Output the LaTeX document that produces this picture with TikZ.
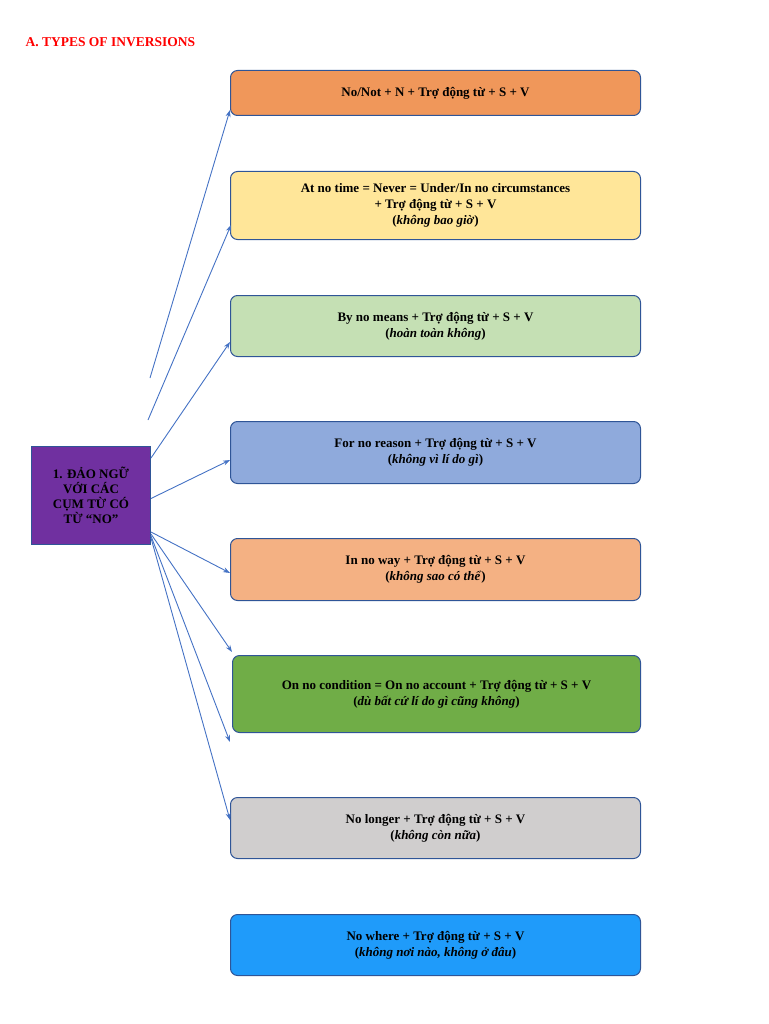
\documentclass[tikz,border=0pt]{standalone}
\usepackage{fontspec}
\setmainfont{Liberation Serif}
\usetikzlibrary{arrows.meta}
\definecolor{c1}{HTML}{F0975A}
\definecolor{c2}{HTML}{FFE699}
\definecolor{c3}{HTML}{C5E0B4}
\definecolor{c4}{HTML}{8FAADC}
\definecolor{c5}{HTML}{F4B183}
\definecolor{c6}{HTML}{70AD47}
\definecolor{c7}{HTML}{D0CECE}
\definecolor{c8}{HTML}{1F9BFA}
\definecolor{cp}{HTML}{7030A0}
\definecolor{edge}{HTML}{2F5597}
\definecolor{arr}{HTML}{4472C4}
\begin{document}
\begin{tikzpicture}[x=1pt,y=-1pt,
 box/.style={draw=edge,line width=1pt,rounded corners=7pt,align=center,font=\bfseries\fontsize{13}{16}\selectfont,inner sep=0pt,anchor=north west},
 ar/.style={draw=arr,line width=0.9pt,-{Stealth[length=7pt,width=5pt]}}]
\useasboundingbox (0,0) rectangle (768,1024);
\node[text=red,font=\bfseries\fontsize{13.5}{16}\selectfont,anchor=west] (t) at (22,42) {A. TYPES OF INVERSIONS};
\node[box,fill=c1,minimum width=410pt,minimum height=45pt] (b1) at (230,70) {No/Not + N + Trợ động từ + S + V};
\node[box,fill=c2,minimum width=410pt,minimum height=68pt] (b2) at (230,171) {At no time = Never = Under/In no circumstances\\+ Trợ động từ + S + V\\(\textit{không bao giờ})};
\node[box,fill=c3,minimum width=410pt,minimum height=61pt] (b3) at (230,295) {By no means + Trợ động từ + S + V\\(\textit{hoàn toàn không})};
\node[box,fill=c4,minimum width=410pt,minimum height=62pt] (b4) at (230,421) {For no reason + Trợ động từ + S + V\\(\textit{không vì lí do gì})};
\node[box,fill=c5,minimum width=410pt,minimum height=62pt] (b5) at (230,538) {In no way + Trợ động từ + S + V\\(\textit{không sao có thể})};
\node[box,fill=c6,minimum width=408pt,minimum height=77pt] (b6) at (232,655) {On no condition = On no account + Trợ động từ + S + V\\(\textit{dù bất cứ lí do gì cũng không})};
\node[box,fill=c7,minimum width=410pt,minimum height=61pt] (b7) at (230,797) {No longer + Trợ động từ + S + V\\(\textit{không còn nữa})};
\node[box,fill=c8,minimum width=410pt,minimum height=61pt] (b8) at (230,914) {No where + Trợ động từ + S + V\\(\textit{không nơi nào, không ở đâu})};
\node[box,rounded corners=0pt,fill=cp,minimum width=119pt,minimum height=98pt,font=\bfseries\fontsize{13}{15}\selectfont] (L) at (31,446) {1. ĐẢO NGỮ\\VỚI CÁC\\CỤM TỪ CÓ\\TỪ “NO”};
\coordinate (s1) at (150,378);
\coordinate (s2) at (148,420);
\coordinate (e1) at (230,110);
\coordinate (e2) at (231,225);
\coordinate (e3) at (230,342);
\coordinate (e4) at (230,460);
\coordinate (e5) at (230,573);
\coordinate (e6) at (232,652);
\coordinate (e7) at (230,742);
\coordinate (e8) at (230,820);
\draw[ar] (s1) -- (e1);
\draw[ar] (s2) -- (e2);
\draw[ar] (L.north east) ++(0,12) -- (e3);
\draw[ar] (L.east) ++(0,3) -- (e4);
\draw[ar] (L.south east) ++(0,-13) -- (e5);
\draw[ar] (L.south east) ++(0,-11) -- (e6);
\draw[ar] (L.south east) ++(0,-9) -- (e7);
\draw[ar] (L.south east) ++(0,-7) -- (e8);
\end{tikzpicture}
\end{document}
